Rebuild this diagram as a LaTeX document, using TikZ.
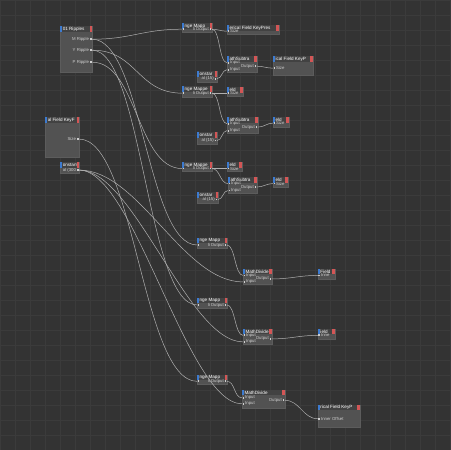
\documentclass[tikz,border=0pt]{standalone}
\usepackage{fontspec}
\setmainfont{Liberation Sans}
\definecolor{canvas}{HTML}{333333}
\definecolor{gridc}{HTML}{3B3B3B}
\definecolor{bodyc}{HTML}{525252}
\definecolor{headc}{HTML}{424242}
\definecolor{edgec}{HTML}{5C5C5C}
\definecolor{tabb}{HTML}{3D7BD0}
\definecolor{tabr}{HTML}{D35656}
\definecolor{wirec}{HTML}{B0B0B0}
\definecolor{textc}{HTML}{CFCFCF}

% one graph node: name, x1, y1, x2, y2, title
\newcommand{\gnode}[6]{%
  \pgfmathsetmacro{\gw}{#4-#2}\pgfmathsetmacro{\gh}{#5-#3}%
  \node[gbox, minimum width=\gw pt, minimum height=\gh pt] (#1) at (#2,#3) {};
  \begin{scope}
    \clip (#2,#3) rectangle (#4,#5);
    \fill[headc] (#2,#3) rectangle (#4,#3+5.5);
    \node[gtitle] (#1-t) at (#2+2.4,#3+2.9) {#6};
  \end{scope}
  \fill[tabb] (#2,#3) rectangle (#2+2,#3+5.5);
  \fill[tabr] (#4-2.5,#3) rectangle (#4,#3+5.5);
}
% input row: port, x, y, text
\newcommand{\gin}[4]{%
  \coordinate (#1) at (#2,#3);
  \fill[textc] (#2+0.6,#3-0.9) rectangle (#2+2.2,#3+0.9);
  \node[prow, anchor=west] (#1-l) at (#2+3,#3) {#4};
}
% output row: port, x, y, text
\newcommand{\gout}[4]{%
  \coordinate (#1) at (#2,#3);
  \fill[textc] (#2-2.2,#3-0.9) rectangle (#2-0.6,#3+0.9);
  \node[prow, anchor=east] (#1-l) at (#2-3,#3) {#4};
}
\newcommand{\wire}[3]{\draw[wire] (#1) .. controls +(#3,0) and +(-#3,0) .. (#2);}

\begin{document}
\begin{tikzpicture}[x=1pt, y=-1pt,
  gbox/.style={anchor=north west, inner sep=0pt, outer sep=0pt, fill=bodyc, draw=edgec, line width=0.4pt},
  gtitle/.style={anchor=west, inner sep=0pt, text=white, font=\fontsize{4.6}{5}\selectfont},
  prow/.style={inner sep=0pt, text=textc, font=\fontsize{4.3}{5}\selectfont},
  wire/.style={draw=wirec, line width=0.5pt}]
\fill[canvas] (0,0) rectangle (450,450);
\foreach \g in {0,15,...,450} {
  \draw[gridc, line width=0.5pt] (\g,0) -- (\g,450);
  \draw[gridc, line width=0.5pt] (0,\g) -- (450,\g);
}

% sources on the left
\gnode{rip}{60}{26}{92}{72}{01 Ripples}
\gout{rip-m}{92}{39}{M Ripple}
\gout{rip-y}{92}{50}{Y Ripple}
\gout{rip-p}{92}{62}{P Ripple}
\gnode{kf}{45}{117}{79}{157}{al Field KeyF}
\gout{kf-size}{79}{139}{Size}
\gnode{ct}{60}{162}{79}{173}{onstant}
\gout{ct-out}{79}{170}{al (300}

% first group
\gnode{rma}{182}{23}{212}{32}{nge Mapp}
\gin{rma-in}{182}{29}{}
\gout{rma-out}{212}{29}{li Output}
\gnode{kpa}{227}{25}{279}{34}{erical Field KeyPres}
\gin{kpa-in}{227}{31}{Size}
\gnode{msa}{227}{56}{257}{72}{athSubtra}
\gin{msa-in1}{227}{62.5}{Input}
\gout{msa-out}{257}{66}{Output}
\gin{msa-in2}{227}{69.5}{Input}
\gnode{kpb}{273}{56}{313}{75}{ical Field KeyP}
\gin{kpb-in}{273}{68}{Size}
\gnode{csa}{197}{71}{217}{82}{onstar}
\gout{csa-out}{217}{78.5}{al (15)}

% second group
\gnode{rmb}{182}{86}{212}{97}{nge Mappe}
\gin{rmb-in}{182}{93}{}
\gout{rmb-out}{212}{93}{li Output}
\gnode{fda}{227}{87}{243}{96}{eld}
\gin{fda-in}{227}{93}{Size}
\gnode{msb}{227}{117}{258}{133}{athSubtra}
\gin{msb-in1}{227}{123.5}{Input}
\gout{msb-out}{258}{127}{Output}
\gin{msb-in2}{227}{130.5}{Input}
\gnode{fdb}{273}{117}{289}{127}{eld}
\gin{fdb-in}{273}{123}{Size}
\gnode{csb}{197}{132}{217}{144}{onstar}
\gout{csb-out}{217}{140.5}{al (15)}

% third group
\gnode{rmc}{182}{162}{212}{171}{nge Mappe}
\gin{rmc-in}{182}{168.5}{}
\gout{rmc-out}{212}{168.5}{li Output}
\gnode{fdc}{227}{162}{242}{171}{eld}
\gin{fdc-in}{227}{168.5}{Size}
\gnode{msc}{228}{177}{257}{193}{athSubtra}
\gin{msc-in1}{228}{183.5}{Input}
\gout{msc-out}{257}{187}{Output}
\gin{msc-in2}{228}{190.5}{Input}
\gnode{fdd}{273}{177}{288}{187}{eld}
\gin{fdd-in}{273}{183.5}{Size}
\gnode{csc}{197}{192}{218}{203}{onstar}
\gout{csc-out}{218}{199.5}{al (15)}

% dividers
\gnode{rmd}{197}{238}{227}{248}{nge Mapp}
\gin{rmd-in}{197}{245}{}
\gout{rmd-out}{227}{245}{li Output}
\gnode{mda}{243}{269}{272}{284}{MathDivide}
\gin{mda-in1}{243}{275.5}{Input}
\gout{mda-out}{272}{279}{Output}
\gin{mda-in2}{243}{282}{Input}
\gnode{fle}{318}{269}{335}{279}{Field}
\gin{fle-in}{318}{275.5}{Inne}

\gnode{rme}{197}{298}{227}{308}{nge Mapp}
\gin{rme-in}{197}{305}{}
\gout{rme-out}{227}{305}{li Output}
\gnode{mdb}{243}{329}{272}{344}{MathDivide}
\gin{mdb-in1}{243}{335.5}{Input}
\gout{mdb-out}{272}{339}{Output}
\gin{mdb-in2}{243}{342}{Input}
\gnode{flf}{318}{329}{335}{339}{ield}
\gin{flf-in}{318}{335.5}{Inne}

\gnode{rmf}{197}{375}{227}{384}{nge Mapp}
\gin{rmf-in}{197}{381.5}{}
\gout{rmf-out}{227}{381.5}{li Output}
\gnode{mdc}{242}{390}{285}{408}{MathDivide}
\gin{mdc-in1}{242}{398}{Input}
\gout{mdc-out}{285}{400.5}{Output}
\gin{mdc-in2}{242}{404}{Input}
\gnode{kpc}{318}{405}{360}{427}{rical Field KeyP}
\gin{kpc-in}{318}{419}{Inner Offset}

% long wires from the sources
\wire{rip-m}{rma-in}{40}
\wire{rip-y}{rmb-in}{45}
\wire{rip-p}{rmc-in}{45}
\wire{rip-m}{rmd-in}{50}
\wire{rip-y}{rme-in}{50}
\wire{kf-size}{rmf-in}{55}
\wire{ct-out}{mda-in2}{60}
\wire{ct-out}{mdb-in2}{55}
\wire{ct-out}{mdc-in2}{55}

% short wires inside the groups
\wire{rma-out}{kpa-in}{6}
\wire{rma-out}{msa-in1}{8}
\wire{csa-out}{msa-in2}{5}
\wire{msa-out}{kpb-in}{6}
\wire{rmb-out}{fda-in}{6}
\wire{rmb-out}{msb-in1}{8}
\wire{csb-out}{msb-in2}{5}
\wire{msb-out}{fdb-in}{6}
\wire{rmc-out}{fdc-in}{6}
\wire{rmc-out}{msc-in1}{8}
\wire{csc-out}{msc-in2}{5}
\wire{msc-out}{fdd-in}{6}
\wire{rmd-out}{mda-in1}{8}
\wire{mda-out}{fle-in}{20}
\wire{rme-out}{mdb-in1}{8}
\wire{mdb-out}{flf-in}{20}
\wire{rmf-out}{mdc-in1}{8}
\wire{mdc-out}{kpc-in}{15}
\end{tikzpicture}
\end{document}
